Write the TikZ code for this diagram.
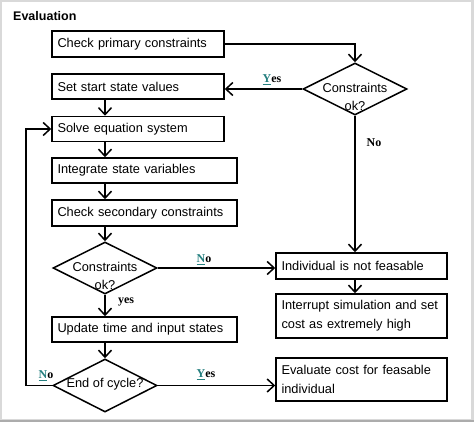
\documentclass[tikz,border=0pt]{standalone}
\usepackage{fontspec}
\setmainfont{Liberation Sans}
\newfontfamily\labfont{Liberation Serif}
\usetikzlibrary{shapes.geometric,arrows.meta}
\definecolor{tealc}{RGB}{38,128,128}
\begin{document}
\begin{tikzpicture}[x=1pt,y=-1pt,
  box/.style={draw,line width=1.5pt,inner xsep=5.5pt,inner ysep=0pt,align=left,
    font=\fontsize{12.8}{19}\selectfont,anchor=center},
  dia/.style={draw,diamond,line width=1.5pt,inner sep=0pt,minimum width=104pt,minimum height=52pt},
  dtext/.style={align=center,font=\fontsize{12.8}{18}\selectfont,inner sep=0pt},
  arr/.style={line width=1.5pt,-{Straight Barb[length=7pt,width=13pt,line width=1.5pt]}},
  lbl/.style={font=\labfont\bfseries\fontsize{12}{14}\selectfont,inner sep=0pt}]
\useasboundingbox (0,0) rectangle (474,422);
\fill[gray!30] (0,0) rectangle (474,422);
\fill[white] (2,2) rectangle (471,419);
\fill[gray!65] (0,419.5) rectangle (474,422);
\node[font=\bfseries\fontsize{12.5}{14}\selectfont,anchor=west,inner sep=0pt] (title) at (13,16) {Evaluation};
% left column
\node[box,minimum width=172pt,minimum height=26pt,text width=161pt] (b1) at (138,44) {Check primary constraints};
\node[box,minimum width=172pt,minimum height=25pt,text width=161pt] (b2) at (138,86.5) {Set start state values};
\node[box,minimum width=172pt,minimum height=25pt,text width=161pt] (b3) at (138,129) {Solve equation system};
\node[box,minimum width=185pt,minimum height=25pt,text width=174pt] (b4) at (144.5,170.5) {Integrate state variables};
\node[box,minimum width=185pt,minimum height=26pt,text width=174pt] (b5) at (144.5,213) {Check secondary constraints};
\node[dia] (d1) at (105,268) {};
\node[dtext] (d1t) at (105,276) {Constraints\\ok?};
\node[box,minimum width=185pt,minimum height=25pt,text width=174pt] (b6) at (144.5,329.5) {Update time and input states};
\node[dia,minimum height=53pt] (d2) at (105,385.5) {};
\node[dtext] (d2t) at (105,384) {End of cycle?};
% right column
\node[dia] (d0) at (355,89) {};
\node[dtext] (d0t) at (355,97) {Constraints\\ok?};
\node[box,minimum width=171pt,minimum height=26pt,text width=160pt] (r1) at (361.5,266) {Individual is not feasable};
\node[box,minimum width=171pt,minimum height=44pt,text width=160pt] (r2) at (361.5,316) {Interrupt simulation and set\\cost as extremely high};
\node[box,minimum width=171pt,minimum height=43pt,text width=160pt] (r3) at (361.5,379.5) {Evaluate cost for feasable\\individual};
% connectors
\draw[arr] (b1.east) -| (d0.north);
\draw[arr] (d0.west) -- (d0.west -| b2.east);
\draw[arr] (d0.south) -- (d0.south |- r1.north);
\draw[arr] (b2.south -| d1.center) -- (b3.north -| d1.center);
\draw[arr] (b3.south -| d1.center) -- (b4.north -| d1.center);
\draw[arr] (b4.south -| d1.center) -- (b5.north -| d1.center);
\draw[arr] (b5.south -| d1.center) -- (d1.north);
\draw[arr] (d1.south) -- (b6.north -| d1.center);
\draw[arr] (b6.south -| d1.center) -- (d2.north);
\draw[arr] (d1.east) -- (d1.east -| r1.west);
\draw[arr] (r1.south -| d0.center) -- (r2.north -| d0.center);
\draw[arr] (d2.east) -- (d2.east -| r3.west);
\coordinate (lp) at (26,385.5);
\draw[arr] (d2.west) -- (lp) |- (b3.west);
% labels
\node[lbl] (l1) at (272,80) {{\color{tealc}\underline{Y}}es};
\node[lbl] (l2) at (374,143) {No};
\node[lbl] (l3) at (204,260) {{\color{tealc}\underline{N}}o};
\node[lbl] (l4) at (126,302) {yes};
\node[lbl] (l5) at (46,376) {{\color{tealc}\underline{N}}o};
\node[lbl] (l6) at (206,375) {{\color{tealc}\underline{Y}}es};
\end{tikzpicture}
\end{document}
